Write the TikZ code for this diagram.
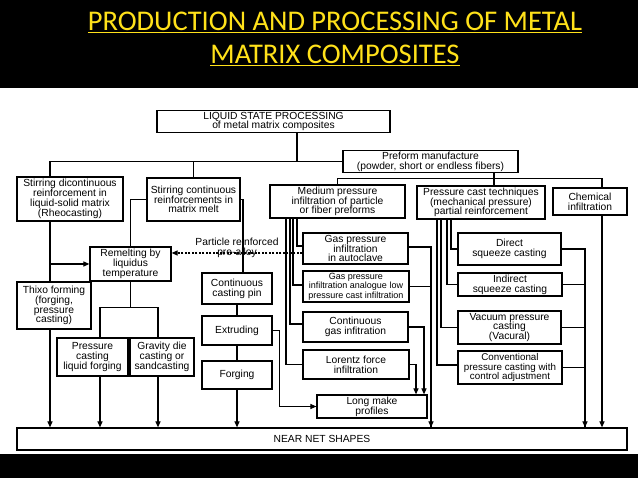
\documentclass[tikz,border=0pt]{standalone}
\usepackage{fontspec}
\setmainfont{Liberation Sans}
\newfontfamily\titlefont{Carlito}
\usetikzlibrary{arrows.meta}
\definecolor{titleyellow}{HTML}{FFE11A}
\tikzset{
   box/.style ={
      rectangle, draw, line width=1.2pt, align=center, inner sep=0pt,
      font=\fontsize{10.3}{9.8}\selectfont,
   },
   line/.style ={
      -, line width=1.1pt, color=black,
   },
   arrow/.style ={
      -{Triangle[length=6pt,width=5pt]}, line width=1.1pt, color=black,
   },
   dashedarrow/.style ={
      -{Triangle[length=6pt,width=5pt]}, line width=1.1pt, dash pattern=on 2pt off 1.5pt,
   },
}

\begin{document}
\begin{tikzpicture}[x=1pt,y=-1pt]

      % page
      \fill[black] (0,0) rectangle (638,478);
      \fill[white] (0,88) rectangle (638,454);
      \useasboundingbox (0,0) rectangle (638,478);

      \node[font=\titlefont\fontsize{28.5}{33}\selectfont, text=titleyellow, align=center]
         (title) at (335,39) {\underline{PRODUCTION AND PROCESSING OF METAL}\\\underline{MATRIX COMPOSITES}};

      % top row
      \node[box, minimum width=233, minimum height=22] (lsp) at (273.5,121.5) {LIQUID STATE PROCESSING\\of metal matrix composites};
      \node[box, minimum width=175, minimum height=22] (pre) at (430.5,161.5) {Preform manufacture\\(powder, short or endless fibers)};

      \node[box, minimum width=106, minimum height=44] (stird) at (70,199) {Stirring dicontinuous\\reinforcement in\\liquid-solid matrix\\(Rheocasting)};
      \node[box, minimum width=93, minimum height=43] (stirc) at (193.5,199.5) {Stirring continuous\\reinforcements in\\matrix melt};
      \node[box, minimum width=135, minimum height=33] (med) at (337.5,201.5) {Medium pressure\\infiltration of particle\\or fiber preforms};
      \node[box, minimum width=128, minimum height=33] (pct) at (481,202.5) {Pressure cast techniques\\(mechanical pressure)\\partial reinforcement};
      \node[box, minimum width=74, minimum height=27] (chem) at (590,201.5) {Chemical\\infiltration};

      % medium pressure
      \node[box, minimum width=105, minimum height=31] (gasa) at (355.5,248.5) {Gas pressure\\infiltration\\in autoclave};
      \node[box, minimum width=106, minimum height=31, font=\fontsize{9}{9.5}\selectfont] (gasl) at (356,286.5) {Gas pressure\\infiltration analogue low\\pressure cast infiltration};
      \node[box, minimum width=105, minimum height=30] (cgas) at (355.5,327) {Continuous\\gas infitration};
      \node[box, minimum width=106, minimum height=29] (lor) at (356,364.5) {Lorentz force\\infiltration};
      \node[box, minimum width=110, minimum height=23] (prof) at (372,406.5) {Long make\\profiles};

      % pressure cast
      \node[box, minimum width=103, minimum height=32] (dsq) at (509.5,249) {Direct\\squeeze casting};
      \node[box, minimum width=104, minimum height=23] (isq) at (510,284.5) {Indirect\\squeeze casting};
      \node[box, minimum width=103, minimum height=33] (vac) at (509.5,327.5) {Vacuum pressure\\casting\\(Vacural)};
      \node[box, minimum width=104, minimum height=33, font=\fontsize{9.8}{9.8}\selectfont] (conv) at (510,367.5) {Conventional\\pressure casting with\\control adjustment};

      % stirring
      \node[box, minimum width=81, minimum height=34] (remelt) at (130.5,264) {Remelting by\\liquidus\\temperature};
      \node[box, minimum width=70, minimum height=31] (pin) at (237,288.5) {Continuous\\casting pin};
      \node[box, minimum width=70, minimum height=29] (extr) at (237,330.5) {Extruding};
      \node[box, minimum width=70, minimum height=28] (forg) at (237,375) {Forging};
      \node[box, minimum width=74, minimum height=47] (thixo) at (54,305.5) {Thixo forming\\(forging,\\pressure\\casting)};
      \node[box, minimum width=71, minimum height=38] (pcast) at (92.5,357) {Pressure\\casting\\liquid forging};
      \node[box, minimum width=64, minimum height=38] (grav) at (162,357) {Gravity die\\casting or\\sandcasting};

      \node[box, minimum width=610, minimum height=22] (nns) at (322,439) {NEAR NET SHAPES};

      \node[font=\fontsize{10.3}{9.8}\selectfont, align=center, inner sep=0pt] (pra) at (237,248) {Particle reinforced\\pre-alloy};

      % tree
      \draw[line] ([xshift=-20pt]stird.north) |- (pre.west);
      \draw[line] ([xshift=23.5pt]lsp.south) -- ([xshift=23.5pt]lsp.south |- pre.west);
      \draw[line] (stirc.north) -- (stirc.north |- pre.west);
      \draw[line] ([xshift=63.5pt]pre.south) -- ([xshift=13pt]pct.north);
      \draw[line] (med.north) -- ++(0,-5.5) -| ([xshift=12pt]chem.north);
      \draw[arrow] ([xshift=12pt]chem.south) -- ([xshift=12pt]chem.south |- nns.north);

      % medium pressure branch
      \draw[line] ([xshift=-40.5pt]med.south) |- ([yshift=2.5pt]gasa.west);
      \draw[line] ([xshift=-44.5pt]med.south) |- ([yshift=1.5pt]gasl.west);
      \draw[line] ([xshift=-47.5pt]med.south) |- ([yshift=3pt]cgas.west);
      \draw[line] ([xshift=-51.5pt]med.south) |- (lor.west);
      \draw[arrow] ([yshift=1.5pt]gasa.east) -| ([xshift=109pt]nns.north);
      \draw[line] (gasl.east) -| ([xshift=109pt]nns.north);
      \draw[arrow] (cgas.east) -| ([xshift=52pt]prof.north);
      \draw[arrow] (lor.east) -| ([xshift=44pt]prof.north);
      \draw[dashedarrow] ([yshift=-4.5pt]gasa.west) -- ([yshift=-4.5pt]gasa.west -| remelt.east);

      % pressure cast branch
      \draw[line] ([xshift=-30pt]pct.south) |- (dsq.west);
      \draw[line] ([xshift=-34pt]pct.south) |- (isq.west);
      \draw[line] ([xshift=-40pt]pct.south) |- (vac.west);
      \draw[line] ([xshift=-44pt]pct.south) |- ([yshift=2.5pt]conv.west);
      \draw[arrow] (dsq.east) -| ([xshift=263pt]nns.north);
      \draw[line] (isq.east) -| ([xshift=263pt]nns.north);
      \draw[line] (vac.east) -| ([xshift=263pt]nns.north);
      \draw[line] (conv.east) -| ([xshift=263pt]nns.north);

      % stirring branches
      \draw[line] ([xshift=-20pt]stird.south) -- ([xshift=-20pt]stird.south |- thixo.north);
      \draw[arrow] ([xshift=-20pt]stird.south |- remelt.west) -- (remelt.west);
      \draw[arrow] ([xshift=-4pt]thixo.south) -- ([xshift=-4pt]thixo.south |- nns.north);
      \draw[line] (stirc.west) -| (remelt.north);
      \draw[line] (stirc.east) -| ([xshift=6pt]pin.north);
      \draw[line] (remelt.south) -- ++(0,26) coordinate (rs);
      \draw[line] ([xshift=7.5pt]pcast.north) |- (rs) -| ([xshift=-4pt]grav.north);
      \draw[arrow] ([xshift=7.5pt]pcast.south) -- ([xshift=7.5pt]pcast.south |- nns.north);
      \draw[arrow] ([xshift=-4pt]grav.south) -- ([xshift=-4pt]grav.south |- nns.north);
      \draw[line] (pin) -- (extr);
      \draw[line] (extr) -- (forg);
      \draw[arrow] (forg.south) -- (forg.south |- nns.north);
      \draw[arrow] (extr.east) -- ++(7,0) |- (prof.west);

   \end{tikzpicture}
\end{document}
